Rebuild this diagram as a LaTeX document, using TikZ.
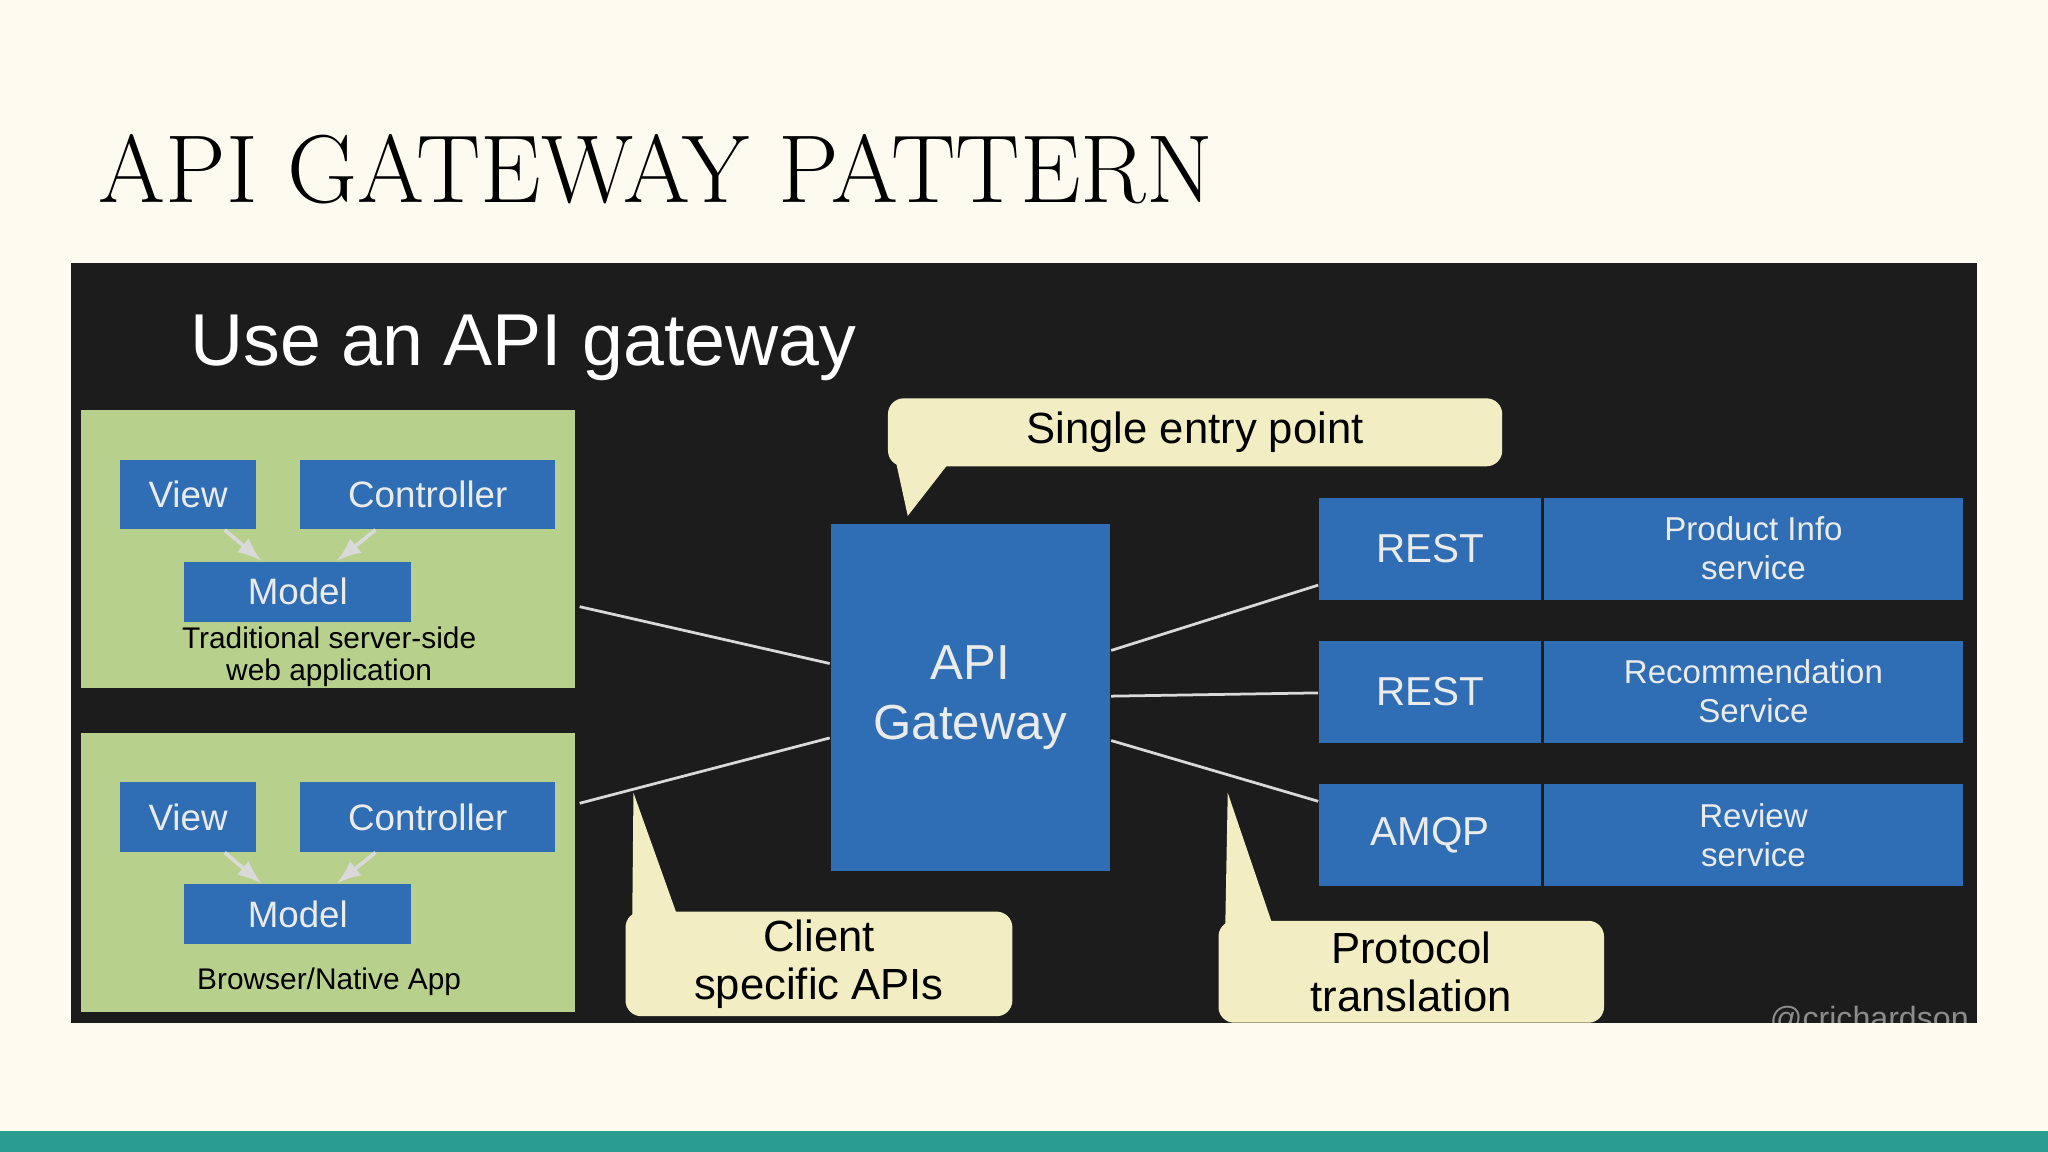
\documentclass[tikz,border=0pt]{standalone}
\usepackage{fontspec}
\newfontfamily\sansf{Liberation Sans}
\usetikzlibrary{calc}
\definecolor{cream}{HTML}{FDFBF0}
\definecolor{teal}{HTML}{2A9D8F}
\definecolor{panel}{HTML}{1C1C1C}
\definecolor{leaf}{HTML}{B7D08C}
\definecolor{boxblue}{HTML}{2F6DB5}
\definecolor{tip}{HTML}{F2EDC2}
\begin{document}
\begin{tikzpicture}[x=0.01cm,y=-0.01cm,
    blk/.style={fill=boxblue,text=white!92!black,font=\sansf\fontsize{8}{9}\selectfont,inner sep=0pt,align=center},
    grn/.style={fill=leaf,inner sep=0pt},
    bub/.style={fill=tip,rounded corners=0.12cm,inner sep=0pt,align=center,font=\sansf\fontsize{9.5}{10.5}\selectfont},
    wire/.style={white!85!black,line width=0.6pt},
    tick/.style={white!85!black,line width=0.8pt,->,>=latex}]
    % background
    \fill[cream] (0,0) rectangle (1568,882);
    \fill[teal] (0,866) rectangle (1568,882);
    \node[anchor=base west,inner sep=0pt,font=\fontsize{21}{25}\selectfont](title)at(75,155){API GATEWAY PATTERN};
    \fill[panel] (54,201) rectangle (1514,783);
    \node[anchor=base west,inner sep=0pt,text=white,font=\sansf\fontsize{16}{18}\selectfont](head)at(145,280){Use an API gateway};
    % clients
    \node[grn,minimum width=3.78cm,minimum height=2.13cm](g1)at(251,420.5){};
    \node[grn,minimum width=3.78cm,minimum height=2.14cm](g2)at(251,668){};
    \node[blk,minimum width=1.04cm,minimum height=0.53cm](v1)at(144,378.5){View};
    \node[blk,minimum width=1.95cm,minimum height=0.53cm](c1)at(327.5,378.5){Controller};
    \node[blk,minimum width=1.74cm,minimum height=0.46cm](m1)at(228,453){Model};
    \node[align=center,inner sep=0pt,font=\sansf\fontsize{6.5}{7}\selectfont](t1)at(252,503){Traditional server-side\\web application};
    \node[blk,minimum width=1.04cm,minimum height=0.53cm](v2)at(144,625.5){View};
    \node[blk,minimum width=1.95cm,minimum height=0.53cm](c2)at(327.5,625.5){Controller};
    \node[blk,minimum width=1.74cm,minimum height=0.46cm](m2)at(228,700){Model};
    \node[inner sep=0pt,font=\sansf\fontsize{6.5}{7}\selectfont](t2)at(252,752){Browser/Native App};
    \draw[tick] (v1.south) ++(28,0) -- ($(m1.north)+(-28,0)$);
    \draw[tick] (c1.south) ++(-40,0) -- ($(m1.north)+(30,0)$);
    \draw[tick] (v2.south) ++(28,0) -- ($(m2.north)+(-28,0)$);
    \draw[tick] (c2.south) ++(-40,0) -- ($(m2.north)+(30,0)$);
    % gateway
    \node[blk,minimum width=2.14cm,minimum height=2.66cm,font=\sansf\fontsize{10.7}{13}\selectfont](gw)at(743,534){API\\Gateway};
    % services
    \node[blk,minimum width=1.7cm,minimum height=0.78cm,font=\sansf\fontsize{8.8}{10}\selectfont](p1)at(1095,420){REST};
    \node[blk,minimum width=3.21cm,minimum height=0.78cm,font=\sansf\fontsize{7.2}{8.5}\selectfont](s1)at(1342.5,420){Product Info\\service};
    \node[blk,minimum width=1.7cm,minimum height=0.78cm,font=\sansf\fontsize{8.8}{10}\selectfont](p2)at(1095,529.5){REST};
    \node[blk,minimum width=3.21cm,minimum height=0.78cm,font=\sansf\fontsize{7.2}{8.5}\selectfont](s2)at(1342.5,529.5){Recommendation\\Service};
    \node[blk,minimum width=1.7cm,minimum height=0.78cm,font=\sansf\fontsize{8.8}{10}\selectfont](p3)at(1095,639.5){AMQP};
    \node[blk,minimum width=3.21cm,minimum height=0.78cm,font=\sansf\fontsize{7.2}{8.5}\selectfont](s3)at(1342.5,639.5){Review\\service};
    % wires
    \draw[wire] ($(g1.east)+(3,44)$) -- ($(gw.west)+(0,-26)$);
    \draw[wire] ($(g2.east)+(3,-53)$) -- ($(gw.west)+(0,31)$);
    \draw[wire] ($(gw.east)+(0,-36)$) -- ($(p1.west)+(0,28)$);
    \draw[wire] ($(gw.east)+(0,-1)$) -- ($(p2.west)+(0,1)$);
    \draw[wire] ($(gw.east)+(0,33)$) -- ($(p3.west)+(0,-26)$);
    % callouts
    \coordinate (e1) at (695,395);
    \coordinate (e2) at (485,607);
    \coordinate (e3) at (940,607);
    \fill[tip] (683,340) -- (e1) -- (730,350) -- cycle;
    \fill[tip] (484,710) -- (e2) -- (520,705) -- cycle;
    \fill[tip] (938,715) -- (e3) -- (975,710) -- cycle;
    \node[bub,minimum width=4.7cm,minimum height=0.52cm](b1)at(915,331){Single entry point};
    \node[bub,minimum width=2.96cm,minimum height=0.8cm](b2)at(627,738){Client\\specific APIs};
    \node[bub,minimum width=2.95cm,minimum height=0.78cm](b3)at(1080.5,744){Protocol\\translation};
    \begin{scope}
    \clip (54,201) rectangle (1514,783);
    \node[anchor=base east,inner sep=0pt,text=white!55!black,font=\sansf\fontsize{7}{8}\selectfont](cr)at(1508,788){@crichardson};
    \end{scope}
\end{tikzpicture}
\end{document}
